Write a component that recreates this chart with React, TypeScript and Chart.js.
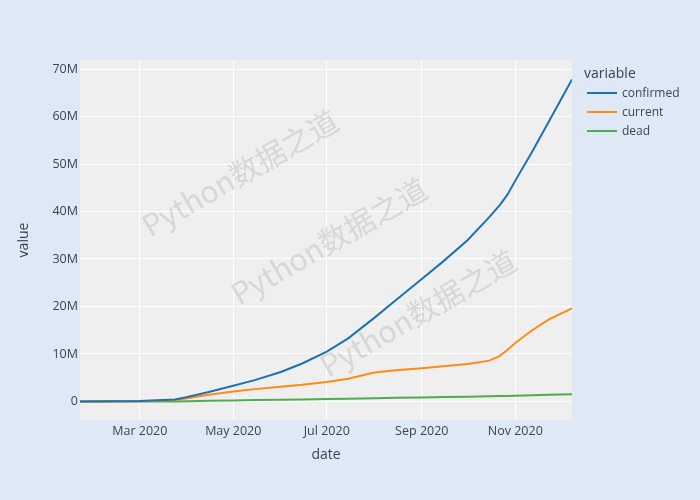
import React, { useEffect, useRef } from "react";
import { Chart, registerables } from "chart.js";

Chart.register(...registerables);

const dates = [
  "2020-01-22", "2020-03-01", "2020-03-24", "2020-04-01", "2020-04-15", "2020-05-01",
  "2020-05-15", "2020-06-01", "2020-06-15", "2020-07-01", "2020-07-15", "2020-08-01",
  "2020-08-15", "2020-09-01", "2020-09-15", "2020-10-01", "2020-10-15", "2020-10-22",
  "2020-10-27", "2020-11-01", "2020-11-12", "2020-11-23", "2020-12-08",
];
// values in millions
const confirmed = [0.0006, 0.09, 0.42, 0.93, 2.0, 3.3, 4.5, 6.2, 8.0, 10.5, 13.3, 17.6, 21.3, 25.8, 29.5, 34.0, 38.8, 41.4, 43.6, 46.5, 52.6, 59.0, 67.8];
const current = [0.0005, 0.04, 0.3, 0.7, 1.4, 2.1, 2.6, 3.1, 3.5, 4.1, 4.8, 6.1, 6.6, 7.0, 7.4, 7.9, 8.6, 9.6, 10.9, 12.3, 15.0, 17.3, 19.6];
const dead = [0, 0.003, 0.02, 0.05, 0.13, 0.23, 0.3, 0.37, 0.44, 0.51, 0.58, 0.68, 0.76, 0.85, 0.93, 1.01, 1.09, 1.14, 1.17, 1.19, 1.29, 1.41, 1.54];

const seriesNames = ["confirmed", "current", "dead"];
const seriesColors = ["#1c72b0", "#ff8a14", "#4fac50"];
const xTickDates = ["2020-03-01", "2020-05-01", "2020-07-01", "2020-09-01", "2020-11-01"];
const xTickLabels = ["Mar 2020", "May 2020", "Jul 2020", "Sep 2020", "Nov 2020"];
const yTicks = [0, 10, 20, 30, 40, 50, 60, 70];
const legendTitle = "variable";
const watermark = "Python数据之道";

const ts = (d: string) => Date.parse(d + "T00:00:00Z");
const FONT = "'Open Sans', 'Noto Sans', sans-serif";
const TEXT = "#3d4450";
const PAPER = "#dee9f5";
const PLOT = "#efefef";

export default function App() {
  const ref = useRef<HTMLCanvasElement | null>(null);

  useEffect(() => {
    document.body.style.margin = "0";
    document.body.style.background = PAPER;
    const canvas = ref.current!;
    const allSeries = [confirmed, current, dead];

    const bgPlugin = {
      id: "bg",
      beforeDraw(chart: any) {
        const { ctx, chartArea: a } = chart;
        ctx.save();
        ctx.fillStyle = PAPER;
        ctx.fillRect(0, 0, chart.width, chart.height);
        ctx.fillStyle = PLOT;
        ctx.fillRect(a.left, a.top, a.right - a.left, a.bottom - a.top);
        ctx.restore();
      },
      beforeDatasetsDraw(chart: any) {
        const { ctx } = chart;
        ctx.save();
        ctx.fillStyle = "rgba(180,180,180,0.42)";
        ctx.font = "30px 'Noto Sans CJK SC', 'Noto Sans', sans-serif";
        ctx.textAlign = "center";
        ctx.textBaseline = "middle";
        const centers = [[240, 173], [329, 241], [418, 313]];
        for (const [cx, cy] of centers) {
          ctx.save();
          ctx.translate(cx, cy);
          ctx.rotate(-30 * Math.PI / 180);
          ctx.fillText(watermark, 0, 0);
          ctx.restore();
        }
        ctx.restore();
      },
      afterDraw(chart: any) {
        const { ctx } = chart;
        ctx.save();
        ctx.fillStyle = TEXT;
        ctx.textBaseline = "middle";
        ctx.textAlign = "left";
        ctx.font = `14px ${FONT}`;
        ctx.fillText(legendTitle, 584, 74);
        ctx.font = `12px ${FONT}`;
        seriesNames.forEach((n, i) => {
          const y = 93 + i * 19;
          ctx.strokeStyle = seriesColors[i];
          ctx.lineWidth = 2;
          ctx.beginPath();
          ctx.moveTo(587, y);
          ctx.lineTo(617, y);
          ctx.stroke();
          ctx.fillStyle = TEXT;
          ctx.fillText(n, 622, y + 1);
        });
        ctx.restore();
      },
    };

    const chart = new Chart(canvas, {
      type: "line",
      data: {
        datasets: seriesNames.map((name, i) => ({
          label: name,
          data: dates.map((d, j) => ({ x: ts(d), y: allSeries[i][j] * 1e6 })),
          borderColor: seriesColors[i],
          backgroundColor: seriesColors[i],
          borderWidth: 2,
          pointRadius: 0,
          tension: 0,
        })),
      },
      options: {
        animation: false,
        responsive: false,
        layout: { padding: { top: 60, right: 128, left: 0, bottom: 0 } },
        plugins: { legend: { display: false }, tooltip: { enabled: false } },
        scales: {
          x: {
            type: "linear",
            min: ts("2020-01-22"),
            max: ts("2020-12-08"),
            afterBuildTicks(scale: any) {
              scale.ticks = xTickDates.map((d) => ({ value: ts(d) }));
            },
            afterFit(scale: any) {
              scale.height = 80;
            },
            ticks: {
              autoSkip: false,
              maxRotation: 0,
              padding: 4,
              color: TEXT,
              font: { family: FONT, size: 12.5 },
              callback: (_v: any, i: number) => xTickLabels[i],
            },
            grid: { color: "#ffffff", lineWidth: 1, drawTicks: false },
            border: { display: false },
            title: {
              display: true,
              text: "date",
              color: TEXT,
              font: { family: FONT, size: 14 },
              padding: { top: 0, bottom: 37 },
            },
          },
          y: {
            type: "linear",
            min: -3.9e6,
            max: 71.9e6,
            afterBuildTicks(scale: any) {
              scale.ticks = yTicks.map((v) => ({ value: v * 1e6 }));
            },
            afterFit(scale: any) {
              scale.width = 80;
            },
            ticks: {
              padding: 2,
              color: TEXT,
              font: { family: FONT, size: 12.5 },
              callback: (v: any) => (v === 0 ? "0" : v / 1e6 + "M"),
            },
            grid: { color: "#ffffff", lineWidth: 1, drawTicks: false },
            border: { display: false },
            title: {
              display: true,
              text: "value",
              color: TEXT,
              font: { family: FONT, size: 14 },
              padding: { top: 16, bottom: 0 },
            },
          },
        },
      },
      plugins: [bgPlugin],
    } as any);

    return () => chart.destroy();
  }, []);

  return (
    <div style={{ width: 700, height: 500, background: PAPER }}>
      <canvas ref={ref} width={700} height={500} />
    </div>
  );
}
